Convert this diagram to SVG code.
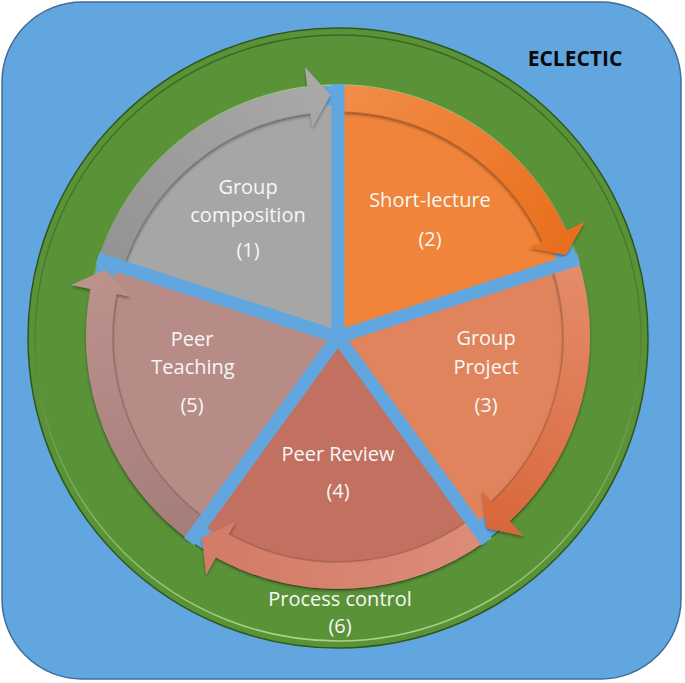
<svg xmlns="http://www.w3.org/2000/svg" width="685" height="683" viewBox="0 0 685 683">
  <style>
    .lbl { font-family: "Open Sans", "Liberation Sans", sans-serif; font-size: 20px; fill: #F7F7F7; text-anchor: middle; }
    .title { font-family: "Open Sans", "Liberation Sans", sans-serif; font-size: 21px; font-weight: bold; fill: #0A0A0A; text-anchor: middle; }
    .spoke { stroke: #62A6E0; stroke-width: 13; fill: none; }
    .band { filter: url(#sh); }
    .crease { fill: none; stroke: #000; stroke-opacity: 0.16; stroke-width: 1.5; }
  </style>
  <defs>
    <filter id="sh" x="-10%" y="-10%" width="120%" height="120%">
      <feDropShadow dx="0" dy="2" stdDeviation="1.8" flood-color="#000" flood-opacity="0.35"/>
    </filter>
    <linearGradient id="rim" x1="0" y1="0" x2="0" y2="1">
      <stop offset="0" stop-color="#3A6523"/>
      <stop offset="0.5" stop-color="#4F8232"/>
      <stop offset="1" stop-color="#A9D58A"/>
    </linearGradient>
    <linearGradient id="rimIn" x1="0" y1="0" x2="0" y2="1">
      <stop offset="0" stop-color="#9CCB7C"/>
      <stop offset="0.5" stop-color="#5E8F40"/>
      <stop offset="1" stop-color="#335C1F"/>
    </linearGradient>
    <linearGradient id="g0" gradientUnits="userSpaceOnUse" x1="98" y1="259" x2="330" y2="95">
      <stop offset="0" stop-color="#939393"/><stop offset="1" stop-color="#A9A9A9"/>
    </linearGradient>
    <linearGradient id="g1" gradientUnits="userSpaceOnUse" x1="338" y1="90" x2="566" y2="250">
      <stop offset="0" stop-color="#F28D48"/><stop offset="1" stop-color="#E86F1D"/>
    </linearGradient>
    <linearGradient id="g2" gradientUnits="userSpaceOnUse" x1="578" y1="259" x2="486" y2="528">
      <stop offset="0" stop-color="#E48D6C"/><stop offset="1" stop-color="#D8673A"/>
    </linearGradient>
    <linearGradient id="g3" gradientUnits="userSpaceOnUse" x1="486" y1="541" x2="202" y2="537">
      <stop offset="0" stop-color="#DC8D78"/><stop offset="1" stop-color="#D27B66"/>
    </linearGradient>
    <linearGradient id="g4" gradientUnits="userSpaceOnUse" x1="190" y1="541" x2="106" y2="270">
      <stop offset="0" stop-color="#A47C78"/><stop offset="1" stop-color="#BC928D"/>
    </linearGradient>
  </defs>

  <!-- background -->
  <rect x="2" y="2" width="679" height="677" rx="80" ry="80" fill="#62A6E0" stroke="#3E6D98" stroke-width="1.5"/>
  <text class="title" x="575" y="66">ECLECTIC</text>

  <!-- Process control ring -->
  <g id="node-process-control">
    <circle cx="338" cy="338" r="310" fill="#5A9238" stroke="#2F561C" stroke-width="1.5"/>
    <circle cx="338" cy="338" r="303" fill="none" stroke="url(#rim)" stroke-width="1.5"/>
    <circle cx="338" cy="337" r="252" fill="#62A6E0" stroke="url(#rimIn)" stroke-width="1.5"/>
    <text class="lbl" x="340" y="606">Process control</text>
    <text class="lbl" x="340" y="633">(6)</text>
  </g>

  <g id="node-group-composition">
    <path d="M338,337 L117.35,265.31 A232,232 0 0 1 338,105 Z" fill="#A6A6A6"/>
    <text class="lbl" x="248" y="194">Group</text>
    <text class="lbl" x="248" y="222">composition</text>
    <text class="lbl" x="248" y="257">(1)</text>
  </g>

  <g id="node-short-lecture">
    <path d="M338,337 L338,105 A232,232 0 0 1 558.65,265.31 Z" fill="#F0843A"/>
    <text class="lbl" x="430" y="207">Short-lecture</text>
    <text class="lbl" x="430" y="246">(2)</text>
  </g>

  <g id="node-group-project">
    <path d="M338,337 L558.65,265.31 A232,232 0 0 1 474.37,524.69 Z" fill="#E0845E"/>
    <text class="lbl" x="486" y="345">Group</text>
    <text class="lbl" x="486" y="374">Project</text>
    <text class="lbl" x="486" y="412">(3)</text>
  </g>

  <g id="node-peer-review">
    <path d="M338,337 L474.37,524.69 A232,232 0 0 1 201.63,524.69 Z" fill="#C27060"/>
    <text class="lbl" x="338" y="461">Peer Review</text>
    <text class="lbl" x="338" y="498">(4)</text>
  </g>

  <g id="node-peer-teaching">
    <path d="M338,337 L201.63,524.69 A232,232 0 0 1 117.35,265.31 Z" fill="#B78C86"/>
    <text class="lbl" x="192" y="346">Peer</text>
    <text class="lbl" x="193" y="374">Teaching</text>
    <text class="lbl" x="192" y="412">(5)</text>
  </g>

  <!-- curved arrows -->
  <g id="connectors">
    <path class="band" fill="url(#g0)" d="M98.3,259.1 A252,252 0 0 1 307.3,86.9 L304.9,67.0 L330.4,95.1 L312.3,127.6 L310.6,113.7 A225,225 0 0 0 124.0,267.5 Z"/>
    <path class="crease" d="M124.0,267.5 A225,225 0 0 1 310.6,113.7"/>
    <path class="band" fill="url(#g1)" d="M338,85 A252,252 0 0 1 566.4,230.5 L584.5,222.0 L565.7,255.0 L529.2,247.8 L541.9,241.9 A225,225 0 0 0 338,112 Z"/>
    <path class="crease" d="M338,112 A225,225 0 0 1 541.9,241.9"/>
    <path class="band" fill="url(#g2)" d="M577.7,259.1 A252,252 0 0 1 509.9,521.3 L523.5,535.9 L486.3,528.2 L481.9,491.3 L491.5,501.6 A225,225 0 0 0 552.0,267.5 Z"/>
    <path class="crease" d="M552.0,267.5 A225,225 0 0 1 491.5,501.6"/>
    <path class="band" fill="url(#g3)" d="M486.1,540.9 A252,252 0 0 1 215.8,557.4 L206.1,574.9 L202.0,537.2 L235.7,521.5 L228.9,533.8 A225,225 0 0 0 470.3,519.0 Z"/>
    <path class="crease" d="M470.3,519.0 A225,225 0 0 1 228.9,533.8"/>
    <path class="band" fill="url(#g4)" d="M189.9,540.9 A252,252 0 0 1 90.6,288.9 L71.0,285.1 L105.6,269.5 L130.9,296.7 L117.1,294.1 A225,225 0 0 0 205.8,519.0 Z"/>
    <path class="crease" d="M205.8,519.0 A225,225 0 0 1 117.1,294.1"/>
  </g>

  <!-- blue gaps between segments -->
  <g id="spokes">
    <line class="spoke" x1="338" y1="337" x2="338" y2="84"/>
    <line class="spoke" x1="338" y1="337" x2="578.6" y2="258.8"/>
    <line class="spoke" x1="338" y1="337" x2="486.7" y2="541.7"/>
    <line class="spoke" x1="338" y1="337" x2="189.3" y2="541.7"/>
    <line class="spoke" x1="338" y1="337" x2="97.4" y2="258.8"/>
  </g>
</svg>
